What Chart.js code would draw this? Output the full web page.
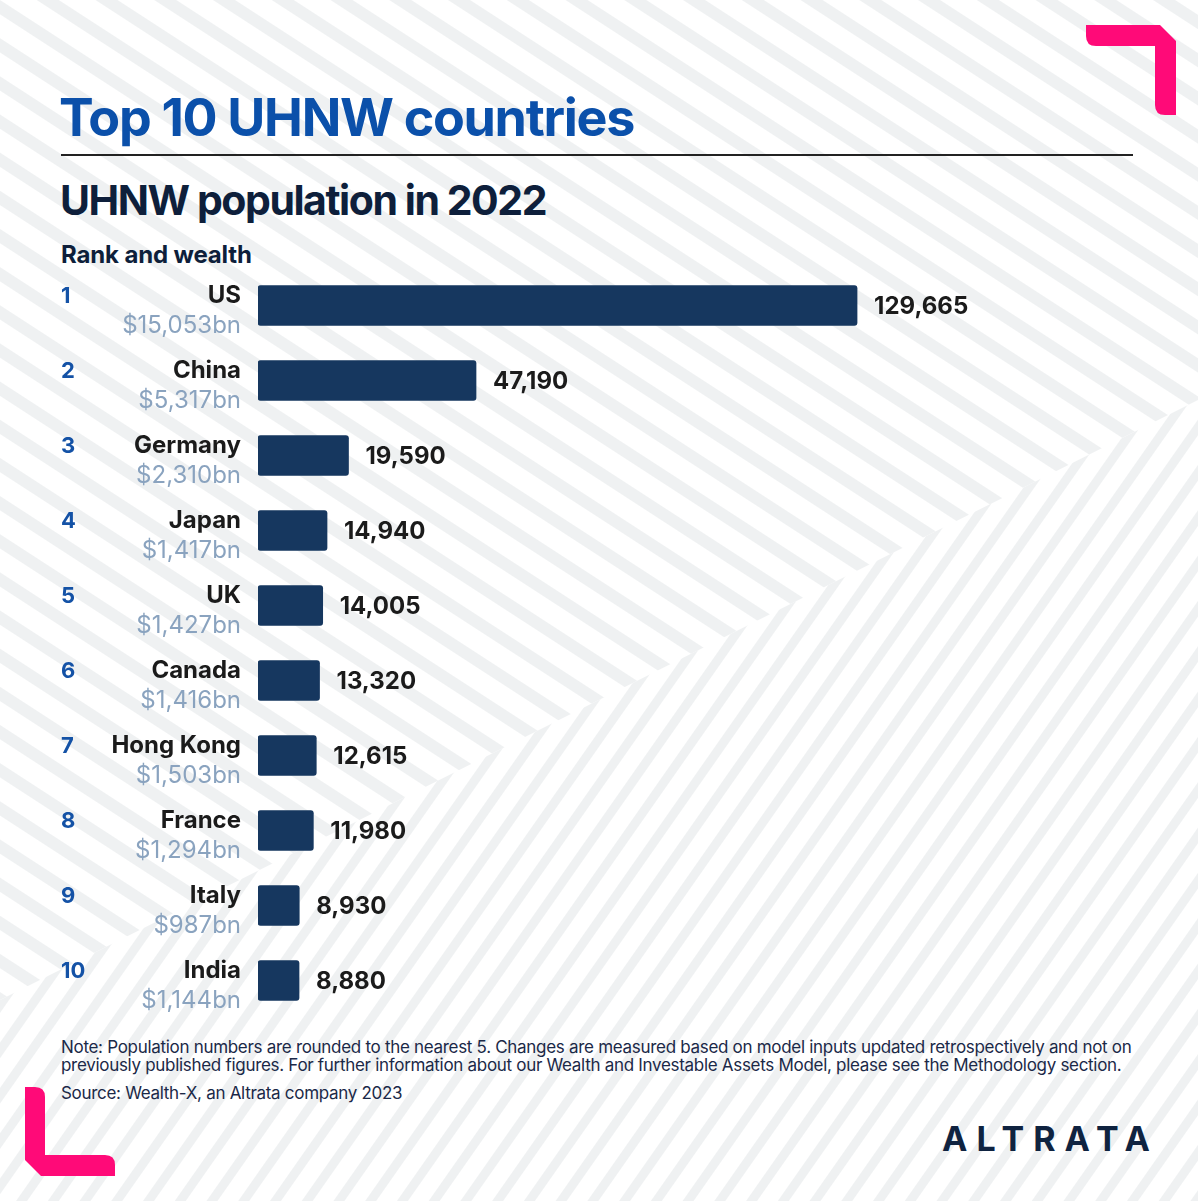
<!DOCTYPE html>
<html>
<head>
<meta charset="utf-8">
<script src="https://cdn.jsdelivr.net/npm/chart.js@4.4.1/dist/chart.umd.min.js"></script>
<style>
  html, body { margin: 0; padding: 0; }
  body { width: 1198px; height: 1201px; position: relative; overflow: hidden; background: #fff; font-family: Inter, "Open Sans", sans-serif; }
  #bg { position: absolute; left: 0; top: 0; }
  .abs { position: absolute; white-space: nowrap; }
  #title { left: 59px; top: 86px; font-size: 52px; font-weight: 700; color: #0b50aa; letter-spacing: -1.3px; }
  #rule { left: 61px; top: 154px; width: 1072px; height: 2px; background: #222; }
  #subtitle { left: 60px; top: 175px; font-size: 41px; font-weight: 700; color: #0e1f3b; letter-spacing: -1.45px; }
  #ranklbl { left: 61px; top: 240px; font-size: 24px; font-weight: 700; color: #0e1f3b; letter-spacing: -0.15px; }
  #chartWrap { position: absolute; left: 0; top: 268px; width: 1198px; height: 750px; }
  #note { left: 61px; top: 1038px; font-size: 17px; line-height: 18px; color: #1b2948; letter-spacing: -0.3px; }
  #source { left: 61px; top: 1083px; font-size: 17px; color: #1b2948; letter-spacing: -0.3px; }
  #logo { left: 942px; top: 1118px; font-size: 34px; font-weight: 700; color: #0f2340; letter-spacing: 9px; }
</style>
</head>
<body>
<svg id="bg" width="1198" height="1201">
  <defs>
    <pattern id="stripeA" width="32" height="32" patternUnits="userSpaceOnUse" patternTransform="rotate(33)">
      <rect x="0" y="0" width="32" height="12" fill="#eff1f2"/>
    </pattern>
    <pattern id="stripeB" width="26" height="26" patternUnits="userSpaceOnUse" patternTransform="rotate(-55)">
      <rect x="0" y="0" width="26" height="9" fill="#eff1f2"/>
    </pattern>
  </defs>
  <polygon points="0,0 1198,0 1198,400 0,1000" fill="url(#stripeA)"/>
  <polygon points="1198,400 1198,1201 0,1201 0,1000" fill="url(#stripeB)"/>
  <path d="M1092,25 L1160,25 L1176,41 L1176,115 L1165,115 Q1155,115 1155,105 L1155,46 L1096,46 Q1086,46 1086,36 L1086,25 Z" fill="#ff0a78"/>
  <path d="M25,1087 L35,1087 Q45,1087 45,1097 L45,1155 L105,1155 Q115,1155 115,1165 L115,1176 L41,1176 L25,1160 Z" fill="#ff0a78"/>
</svg>

<div id="title" class="abs">Top 10 UHNW countries</div>
<div id="rule" class="abs"></div>
<div id="subtitle" class="abs">UHNW population in 2022</div>
<div id="ranklbl" class="abs">Rank and wealth</div>
<div id="chartWrap"><canvas id="chart" width="1198" height="750"></canvas></div>
<div id="note" class="abs">Note: Population numbers are rounded to the nearest 5. Changes are measured based on model inputs updated retrospectively and not on<br>previously published figures. For further information about our Wealth and Investable Assets Model, please see the Methodology section.</div>
<div id="source" class="abs">Source: Wealth-X, an Altrata company 2023</div>
<div id="logo" class="abs">ALTRATA</div>

<script>
// data
const ranks = ['1', '2', '3', '4', '5', '6', '7', '8', '9', '10'];
const countries = ['US', 'China', 'Germany', 'Japan', 'UK', 'Canada', 'Hong Kong', 'France', 'Italy', 'India'];
const wealth = ['$15,053bn', '$5,317bn', '$2,310bn', '$1,417bn', '$1,427bn', '$1,416bn', '$1,503bn', '$1,294bn', '$987bn', '$1,144bn'];
const population = [129665, 47190, 19590, 14940, 14005, 13320, 12615, 11980, 8930, 8880];

const FONT = 'Inter, "Open Sans", sans-serif';

// rank / country / wealth on the left, value at the bar end
const rowLabels = {
    id: 'rowLabels',
    afterDatasetsDraw(chart) {
        const c = chart.ctx;
        const yScale = chart.scales.y;
        const bars = chart.getDatasetMeta(0).data;
        c.save();
        countries.forEach((name, i) => {
            const y = yScale.getPixelForValue(i);

            c.textBaseline = 'alphabetic';
            c.textAlign = 'left';
            c.font = '700 22px ' + FONT;
            c.fillStyle = '#1452a6';
            c.fillText(ranks[i], 61, y - 3);

            c.textAlign = 'right';
            c.font = '700 24px ' + FONT;
            c.fillStyle = '#1b1b1b';
            c.fillText(name, 241, y - 3);

            c.font = '400 24px ' + FONT;
            c.fillStyle = '#8aa3bf';
            c.fillText(wealth[i], 241, y + 27);

            c.textAlign = 'left';
            c.textBaseline = 'middle';
            c.font = '700 24px ' + FONT;
            c.fillStyle = '#1b1b1b';
            c.fillText(population[i].toLocaleString('en-US'), bars[i].x + 17, y + 1);
        });
        c.restore();
    }
};

new Chart(document.getElementById('chart'), {
    type: 'bar',
    data: {
        labels: countries,
        datasets: [{
            label: 'UHNW population',
            data: population,
            backgroundColor: '#16375f',
            borderRadius: 3,
            borderSkipped: false,
            barThickness: 40
        }]
    },
    options: {
        indexAxis: 'y',
        responsive: false,
        devicePixelRatio: 1,
        animation: false,
        layout: { padding: { left: 258, right: 247, top: 0, bottom: 0 } },
        plugins: { legend: { display: false }, tooltip: { enabled: false } },
        scales: {
            x: { display: false, min: 0, max: 150000 },
            y: { display: false }
        }
    },
    plugins: [rowLabels]
});
</script>
</body>
</html>
